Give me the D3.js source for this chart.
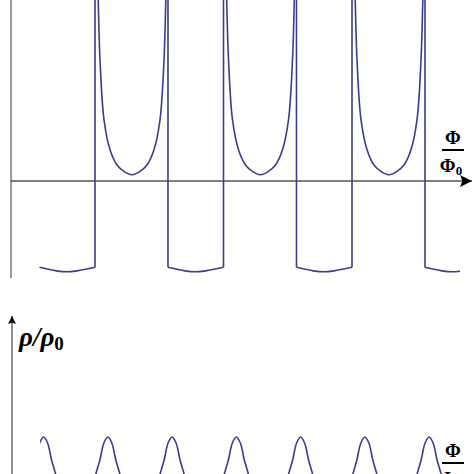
<!DOCTYPE html>
<html><head><meta charset="utf-8">
<script src="https://cdn.jsdelivr.net/npm/d3@7"></script>
<style>body{margin:0;background:#fff}svg{display:block}</style>
</head><body>
<script>
// one period of the top curve, x in flux quanta
const uPhase = [0.016, 0.025, 0.039, 0.07, 0.117, 0.171, 0.233, 0.288, 0.342, 0.405, 0.459, 0.506, 0.537, 0.551, 0.56];
const uValue = [2.6, 2.03, 1.36, 0.69, 0.35, 0.18, 0.10, 0.07, 0.10, 0.18, 0.35, 0.69, 1.36, 2.03, 2.6];
const flatPhase = [0.568, 0.7, 0.78, 0.86, 1.0];
const flatValue = [-0.97, -1.01, -1.02, -1.01, -0.97];
const periods = [-1, 0, 1, 2];
// bottom panel: one bump around its peak
const bumpPhase = [-0.25, -0.125, -0.093, -0.062, -0.031, 0, 0.031, 0.062, 0.093, 0.125];
const bumpValue = [-0.6, 0.42, 0.63, 0.77, 0.94, 1, 0.94, 0.77, 0.63, 0.42];
const bumpCentres = [-0.4, 0.1, 0.6, 1.1, 1.6, 2.1, 2.6];

const W = 474, H = 474, blue = "#3c3c8c";
const svg = d3.select("body").append("svg").attr("width", W).attr("height", H);
const x = d3.scaleLinear().domain([0, 1]).range([95, 223.5]);
const yTop = d3.scaleLinear().domain([0, 1]).range([181, 92]);
const yBot = d3.scaleLinear().domain([0, 1]).range([537, 437]);

svg.append("defs").html(
  '<clipPath id="ct"><rect x="38" y="0" width="422" height="290"/></clipPath>' +
  '<clipPath id="cb"><rect x="40" y="300" width="420" height="174"/></clipPath>' +
  '<marker id="ah" viewBox="0 0 10 10" refX="10" refY="5" markerWidth="24" markerHeight="12" markerUnits="userSpaceOnUse" orient="auto"><path d="M0,0L10,5L0,10L2,5z" fill="#000"/></marker>' +
  '<marker id="av" viewBox="0 0 10 10" refX="10" refY="5" markerWidth="18" markerHeight="8" markerUnits="userSpaceOnUse" orient="auto"><path d="M0,0L10,5L0,10L2,5z" fill="#000"/></marker>');

// axes
svg.append("line").attr("x1", 11).attr("x2", 11).attr("y1", 0).attr("y2", 278).attr("stroke", "#666").attr("stroke-width", 1.3);
svg.append("line").attr("x1", 11).attr("x2", 472).attr("y1", yTop(0)).attr("y2", yTop(0)).attr("stroke", "#000").attr("stroke-width", 1).attr("marker-end", "url(#ah)");
svg.append("line").attr("x1", 12).attr("x2", 12).attr("y1", 474).attr("y2", 316).attr("stroke", "#555").attr("stroke-width", 1.3).attr("marker-end", "url(#av)");

// top curve, drawn piece by piece
const g = svg.append("g").attr("clip-path", "url(#ct)").attr("fill", "none").attr("stroke", blue).attr("stroke-width", 1.6);
const smooth = d3.line().curve(d3.curveCatmullRom).x(d => x(d[0])).y(d => yTop(d[1]));
periods.forEach(k => {
  if (k >= 0) {
    g.append("line").attr("x1", x(k)).attr("x2", x(k)).attr("y1", yTop(flatValue[4])).attr("y2", 0);
    g.append("path").attr("d", smooth(uPhase.map((p, i) => [k + p, uValue[i]])));
    g.append("line").attr("x1", x(k + flatPhase[0])).attr("x2", x(k + flatPhase[0])).attr("y1", 0).attr("y2", yTop(flatValue[0]));
  }
  g.append("path").attr("d", smooth(flatPhase.map((p, i) => [k + p, flatValue[i]])));
});

// bottom curve
const botPts = [];
bumpCentres.forEach(c => bumpPhase.forEach((p, i) => botPts.push([c + p, bumpValue[i]])));
svg.append("path").attr("d", d3.line().curve(d3.curveCatmullRom).x(d => x(d[0])).y(d => yBot(d[1]))(botPts))
  .attr("clip-path", "url(#cb)").attr("fill", "none").attr("stroke", blue).attr("stroke-width", 1.6);

// labels
const f = "'Liberation Serif', 'DejaVu Serif', serif";
function frac(cx, y0) {
  svg.append("text").attr("x", cx).attr("y", y0).attr("text-anchor", "middle").attr("font-family", f).attr("font-weight", "bold").attr("font-size", 19).text("Φ");
  svg.append("line").attr("x1", cx - 11).attr("x2", cx + 11).attr("y1", y0 + 6).attr("y2", y0 + 6).attr("stroke", "#000").attr("stroke-width", 2);
  const t = svg.append("text").attr("x", cx - 2).attr("y", y0 + 28).attr("text-anchor", "middle").attr("font-family", f).attr("font-weight", "bold").attr("font-size", 19).text("Φ");
  t.append("tspan").attr("font-size", 13).attr("dy", 3).text("0");
}
frac(453, 144);
frac(453, 457);
const r = svg.append("text").attr("x", 19).attr("y", 346).attr("font-family", f).attr("font-weight", "bold").attr("font-style", "italic").attr("font-size", 27).text("ρ/ρ");
r.append("tspan").attr("font-size", 19).attr("dy", 4).attr("font-style", "normal").text("0");
</script>
</body></html>
